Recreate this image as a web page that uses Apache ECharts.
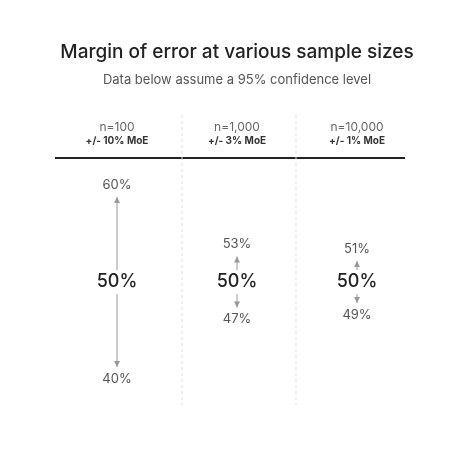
<!DOCTYPE html><html><head><meta charset="utf-8">
<script src="https://cdn.jsdelivr.net/npm/echarts@6/dist/echarts.min.js"></script>
<style>html,body{margin:0;background:#fff}#c{width:474px;height:452px}</style></head><body><div id="c"></div>
<script>
const categories=['n=100','n=1,000','n=10,000'];
const moeLabels=['+/- 10% MoE','+/- 3% MoE','+/- 1% MoE'];
const center=[50,50,50];
const upper=[60,53,51];
const lower=[40,47,49];
const chart=echarts.init(document.getElementById('c'));
const F='Inter, "Noto Sans", sans-serif';
const data=categories.map((c,i)=>[i,center[i],upper[i],lower[i]]);
chart.setOption({
 animation:false,
 title:{text:'Margin of error at various sample sizes',subtext:'Data below assume a 95% confidence level',left:'center',top:38,itemGap:12,
  textStyle:{fontFamily:F,fontSize:19,fontWeight:500,color:'#222'},subtextStyle:{fontFamily:F,fontSize:13,color:'#555'}},
 grid:{left:57,width:360,top:112,height:344},
 xAxis:{type:'category',data:categories,show:false},
 yAxis:{type:'value',min:30,max:70,show:false},
 graphic:[
  {type:'line',shape:{x1:55,y1:158,x2:405,y2:158},style:{stroke:'#222',lineWidth:2}},
  {type:'line',shape:{x1:182,y1:115,x2:182,y2:405},style:{stroke:'#ddd',lineWidth:1,lineDash:[3,3]}},
  {type:'line',shape:{x1:296,y1:115,x2:296,y2:405},style:{stroke:'#ddd',lineWidth:1,lineDash:[3,3]}}
 ],
 series:[{type:'custom',data:data,renderItem:function(p,api){
  const i=api.value(0);
  const c=api.coord([i,api.value(1)]), u=api.coord([i,api.value(2)]), l=api.coord([i,api.value(3)]);
  const x=c[0], g=12, m=9, grey='#999';
  const ut=Math.min(u[1],c[1]-g-m), lt=Math.max(l[1],c[1]+g+m);
  const arrow=(y0,y1,d)=>[{type:'line',shape:{x1:x,y1:y0,x2:x,y2:y1},style:{stroke:grey,lineWidth:1}},
   {type:'polygon',shape:{points:[[x,y1],[x-3,y1-6*d],[x+3,y1-6*d]]},style:{fill:grey}}];
  const t=(y,s,sz,w,col)=>({type:'text',x:x,y:y,style:{text:s,fontFamily:F,fontSize:sz,fontWeight:w,fill:col,align:'center',verticalAlign:'middle'}});
  return {type:'group',children:[
   ...arrow(c[1]-g,ut,-1),...arrow(c[1]+g,lt,1),
   t(c[1],api.value(1)+'%',18,500,'#222'),
   t(ut-12,api.value(2)+'%',13,'normal','#555'),
   t(lt+12,api.value(3)+'%',13,'normal','#555'),
   t(127,categories[i],12,'normal','#666'),
   t(141,moeLabels[i],10,'bold','#333')
  ]};
 }}]
});
</script></body></html>
